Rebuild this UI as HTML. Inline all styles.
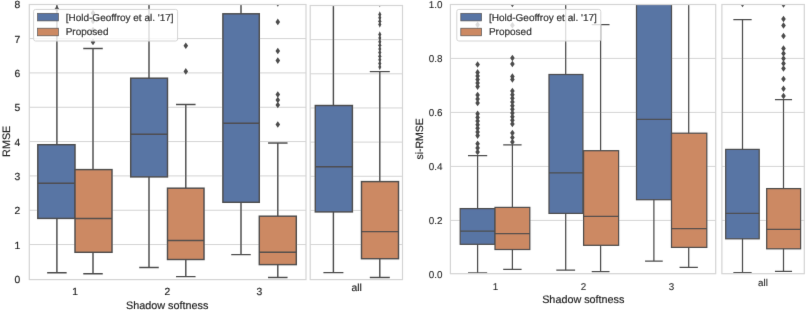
<!DOCTYPE html>
<html><head><meta charset="utf-8"><title>Boxplots</title>
<style>
html,body{margin:0;padding:0;background:#ffffff;width:808px;height:310px;overflow:hidden;}
svg text{font-family:"Liberation Sans", sans-serif;stroke:#262626;stroke-width:0.18px;text-rendering:geometricPrecision;}
svg{will-change:transform;}
</style></head>
<body>
<svg width="808" height="310" viewBox="0 0 808 310" style="display:block">
<defs><filter id="soft" x="0" y="0" width="808" height="310" filterUnits="userSpaceOnUse"><feConvolveMatrix order="3" kernelMatrix="0 1 0 1 12 1 0 1 0" divisor="16" edgeMode="duplicate"/></filter></defs>
<rect x="0" y="0" width="808" height="310" fill="#ffffff"/>
<g filter="url(#soft)">
<clipPath id="cL"><rect x="29.3" y="4.5" width="276.7" height="275.1"/></clipPath>
<g clip-path="url(#cL)">
<line x1="29.3" y1="244.57" x2="306.0" y2="244.57" stroke="#d4d4d4" stroke-width="1"/>
<line x1="29.3" y1="210.24" x2="306.0" y2="210.24" stroke="#d4d4d4" stroke-width="1"/>
<line x1="29.3" y1="175.91" x2="306.0" y2="175.91" stroke="#d4d4d4" stroke-width="1"/>
<line x1="29.3" y1="141.58" x2="306.0" y2="141.58" stroke="#d4d4d4" stroke-width="1"/>
<line x1="29.3" y1="107.25" x2="306.0" y2="107.25" stroke="#d4d4d4" stroke-width="1"/>
<line x1="29.3" y1="72.92" x2="306.0" y2="72.92" stroke="#d4d4d4" stroke-width="1"/>
<line x1="29.3" y1="38.59" x2="306.0" y2="38.59" stroke="#d4d4d4" stroke-width="1"/>
<g stroke="#4d4d4d" stroke-width="1.45" fill="none"><line x1="56.9" y1="218.4" x2="56.9" y2="272.7"/>
<line x1="47.15" y1="272.7" x2="66.65" y2="272.7"/>
<line x1="56.9" y1="144.7" x2="56.9" y2="-10"/>
<rect x="37.8" y="144.7" width="37.20" height="73.70" fill="#5975a4"/>
<line x1="37.8" y1="183.3" x2="75.0" y2="183.3"/>
<line x1="93.0" y1="252.3" x2="93.0" y2="273.7"/>
<line x1="83.25" y1="273.7" x2="102.75" y2="273.7"/>
<line x1="93.0" y1="169.6" x2="93.0" y2="48.5"/>
<line x1="83.25" y1="48.5" x2="102.75" y2="48.5"/>
<rect x="75.0" y="169.6" width="37.00" height="82.70" fill="#cc8963"/>
<line x1="75.0" y1="218.4" x2="112.0" y2="218.4"/>
<line x1="149.0" y1="176.9" x2="149.0" y2="267.5"/>
<line x1="139.25" y1="267.5" x2="158.75" y2="267.5"/>
<line x1="149.0" y1="78.2" x2="149.0" y2="-10"/>
<rect x="130.7" y="78.2" width="36.80" height="98.70" fill="#5975a4"/>
<line x1="130.7" y1="134.2" x2="167.5" y2="134.2"/>
<line x1="185.8" y1="259.5" x2="185.8" y2="276.6"/>
<line x1="176.05" y1="276.6" x2="195.55" y2="276.6"/>
<line x1="185.8" y1="188.2" x2="185.8" y2="104.5"/>
<line x1="176.05" y1="104.5" x2="195.55" y2="104.5"/>
<rect x="167.5" y="188.2" width="36.50" height="71.30" fill="#cc8963"/>
<line x1="167.5" y1="240.4" x2="204.0" y2="240.4"/>
<line x1="241.0" y1="202.3" x2="241.0" y2="254.6"/>
<line x1="231.25" y1="254.6" x2="250.75" y2="254.6"/>
<line x1="241.0" y1="13.8" x2="241.0" y2="-10"/>
<rect x="222.9" y="13.8" width="36.40" height="188.50" fill="#5975a4"/>
<line x1="222.9" y1="123.3" x2="259.3" y2="123.3"/>
<line x1="277.8" y1="264.6" x2="277.8" y2="277.5"/>
<line x1="268.05" y1="277.5" x2="287.55" y2="277.5"/>
<line x1="277.8" y1="216.2" x2="277.8" y2="143.0"/>
<line x1="268.05" y1="143.0" x2="287.55" y2="143.0"/>
<rect x="259.3" y="216.2" width="37.00" height="48.40" fill="#cc8963"/>
<line x1="259.3" y1="252.3" x2="296.3" y2="252.3"/></g><g fill="#4d4d4d" stroke="none"><polygon points="56.9,5.7 59.2,9.0 56.9,12.3 54.6,9.0"/>
<polygon points="93.0,9.7 95.3,13.0 93.0,16.3 90.7,13.0"/>
<polygon points="93.0,17.7 95.3,21.0 93.0,24.3 90.7,21.0"/>
<polygon points="93.0,26.7 95.3,30.0 93.0,33.3 90.7,30.0"/>
<polygon points="93.0,38.7 95.3,42.0 93.0,45.3 90.7,42.0"/>

<polygon points="185.8,42.5 188.1,45.8 185.8,49.1 183.5,45.8"/>
<polygon points="185.8,68.1 188.1,71.4 185.8,74.7 183.5,71.4"/>

<polygon points="277.8,0.2 280.1,3.5 277.8,6.8 275.5,3.5"/>
<polygon points="277.8,18.6 280.1,21.9 277.8,25.2 275.5,21.9"/>
<polygon points="277.8,47.7 280.1,51.0 277.8,54.3 275.5,51.0"/>
<polygon points="277.8,57.3 280.1,60.6 277.8,63.9 275.5,60.6"/>
<polygon points="277.8,91.2 280.1,94.5 277.8,97.8 275.5,94.5"/>
<polygon points="277.8,96.7 280.1,100.0 277.8,103.3 275.5,100.0"/>
<polygon points="277.8,101.7 280.1,105.0 277.8,108.3 275.5,105.0"/>
<polygon points="277.8,121.2 280.1,124.5 277.8,127.8 275.5,124.5"/></g>
</g>
<rect x="29.3" y="4.5" width="276.7" height="275.1" fill="none" stroke="#d4d4d4" stroke-width="1.2"/>
<clipPath id="cLA"><rect x="310.2" y="5.5" width="92.30000000000001" height="274.1"/></clipPath>
<g clip-path="url(#cLA)">
<line x1="310.2" y1="244.55" x2="402.5" y2="244.55" stroke="#d4d4d4" stroke-width="1"/>
<line x1="310.2" y1="210.40" x2="402.5" y2="210.40" stroke="#d4d4d4" stroke-width="1"/>
<line x1="310.2" y1="176.25" x2="402.5" y2="176.25" stroke="#d4d4d4" stroke-width="1"/>
<line x1="310.2" y1="142.10" x2="402.5" y2="142.10" stroke="#d4d4d4" stroke-width="1"/>
<line x1="310.2" y1="107.95" x2="402.5" y2="107.95" stroke="#d4d4d4" stroke-width="1"/>
<line x1="310.2" y1="73.80" x2="402.5" y2="73.80" stroke="#d4d4d4" stroke-width="1"/>
<line x1="310.2" y1="39.65" x2="402.5" y2="39.65" stroke="#d4d4d4" stroke-width="1"/>
<g stroke="#4d4d4d" stroke-width="1.45" fill="none"><line x1="333.4" y1="211.9" x2="333.4" y2="272.6"/>
<line x1="323.4" y1="272.6" x2="343.4" y2="272.6"/>
<line x1="333.4" y1="105.5" x2="333.4" y2="-10"/>
<rect x="315.3" y="105.5" width="37.10" height="106.40" fill="#5975a4"/>
<line x1="315.3" y1="166.8" x2="352.4" y2="166.8"/>
<line x1="379.8" y1="258.7" x2="379.8" y2="277.4"/>
<line x1="369.8" y1="277.4" x2="389.8" y2="277.4"/>
<line x1="379.8" y1="181.6" x2="379.8" y2="71.6"/>
<line x1="369.8" y1="71.6" x2="389.8" y2="71.6"/>
<rect x="361.5" y="181.6" width="37.00" height="77.10" fill="#cc8963"/>
<line x1="361.5" y1="231.6" x2="398.5" y2="231.6"/></g><g fill="#4d4d4d" stroke="none">
<polygon points="379.8,0.7 381.3,4.0 379.8,7.3 378.3,4.0"/>
<polygon points="379.8,11.2 381.3,14.5 379.8,17.8 378.3,14.5"/>
<polygon points="379.8,14.5 381.3,17.8 379.8,21.1 378.3,17.8"/>
<polygon points="379.8,17.9 381.3,21.2 379.8,24.5 378.3,21.2"/>
<polygon points="379.8,21.2 381.3,24.5 379.8,27.8 378.3,24.5"/>
<polygon points="379.8,31.2 381.3,34.5 379.8,37.8 378.3,34.5"/>
<polygon points="379.8,34.8 381.3,38.1 379.8,41.4 378.3,38.1"/>
<polygon points="379.8,38.4 381.3,41.7 379.8,45.0 378.3,41.7"/>
<polygon points="379.8,42.0 381.3,45.3 379.8,48.6 378.3,45.3"/>
<polygon points="379.8,45.6 381.3,48.9 379.8,52.2 378.3,48.9"/>
<polygon points="379.8,49.3 381.3,52.6 379.8,55.9 378.3,52.6"/>
<polygon points="379.8,52.9 381.3,56.2 379.8,59.5 378.3,56.2"/>
<polygon points="379.8,56.5 381.3,59.8 379.8,63.1 378.3,59.8"/>
<polygon points="379.8,60.1 381.3,63.4 379.8,66.7 378.3,63.4"/>
<polygon points="379.8,63.7 381.3,67.0 379.8,70.3 378.3,67.0"/></g>
</g>
<rect x="310.2" y="5.5" width="92.30000000000001" height="274.1" fill="none" stroke="#d4d4d4" stroke-width="1.2"/>
<clipPath id="cR"><rect x="450.4" y="4.5" width="265.30000000000007" height="269.2"/></clipPath>
<g clip-path="url(#cR)">
<line x1="450.4" y1="220.40" x2="715.7" y2="220.40" stroke="#d4d4d4" stroke-width="1"/>
<line x1="450.4" y1="166.40" x2="715.7" y2="166.40" stroke="#d4d4d4" stroke-width="1"/>
<line x1="450.4" y1="112.40" x2="715.7" y2="112.40" stroke="#d4d4d4" stroke-width="1"/>
<line x1="450.4" y1="58.40" x2="715.7" y2="58.40" stroke="#d4d4d4" stroke-width="1"/>
<g stroke="#4d4d4d" stroke-width="1.25" fill="none"><line x1="477.6" y1="244.3" x2="477.6" y2="272.8"/>
<line x1="468.0" y1="272.8" x2="487.20000000000005" y2="272.8"/>
<line x1="477.6" y1="208.6" x2="477.6" y2="155.6"/>
<line x1="468.0" y1="155.6" x2="487.20000000000005" y2="155.6"/>
<rect x="460.2" y="208.6" width="34.80" height="35.70" fill="#5975a4"/>
<line x1="460.2" y1="231.2" x2="495.0" y2="231.2"/>
<line x1="512.4" y1="249.5" x2="512.4" y2="269.3"/>
<line x1="503.2" y1="269.3" x2="521.6" y2="269.3"/>
<line x1="512.4" y1="207.4" x2="512.4" y2="144.9"/>
<line x1="503.2" y1="144.9" x2="521.6" y2="144.9"/>
<rect x="495.0" y="207.4" width="34.80" height="42.10" fill="#cc8963"/>
<line x1="495.0" y1="233.6" x2="529.8" y2="233.6"/>
<line x1="565.7" y1="213.4" x2="565.7" y2="270.0"/>
<line x1="556.3000000000001" y1="270.0" x2="575.1" y2="270.0"/>
<line x1="565.7" y1="74.5" x2="565.7" y2="-10"/>
<rect x="549.0" y="74.5" width="33.90" height="138.90" fill="#5975a4"/>
<line x1="549.0" y1="172.8" x2="582.9" y2="172.8"/>
<line x1="600.6" y1="245.3" x2="600.6" y2="271.6"/>
<line x1="591.7" y1="271.6" x2="609.5" y2="271.6"/>
<line x1="600.6" y1="150.7" x2="600.6" y2="24.7"/>
<line x1="591.7" y1="24.7" x2="609.5" y2="24.7"/>
<rect x="583.6" y="150.7" width="35.00" height="94.60" fill="#cc8963"/>
<line x1="583.6" y1="216.3" x2="618.6" y2="216.3"/>
<line x1="653.9" y1="199.7" x2="653.9" y2="261.0"/>
<line x1="645.05" y1="261.0" x2="662.75" y2="261.0"/>
<line x1="653.9" y1="-5.0" x2="653.9" y2="-10"/>
<rect x="636.5" y="-5.0" width="35.00" height="204.70" fill="#5975a4"/>
<line x1="636.5" y1="119.4" x2="671.5" y2="119.4"/>
<line x1="688.7" y1="247.4" x2="688.7" y2="267.4"/>
<line x1="679.5500000000001" y1="267.4" x2="697.85" y2="267.4"/>
<line x1="688.7" y1="133.2" x2="688.7" y2="-10"/>
<rect x="671.5" y="133.2" width="35.30" height="114.20" fill="#cc8963"/>
<line x1="671.5" y1="228.7" x2="706.8" y2="228.7"/></g><g fill="#4d4d4d" stroke="none"><polygon points="477.6,21.5 479.9,24.8 477.6,28.1 475.3,24.8"/>
<polygon points="477.6,61.2 479.9,64.5 477.6,67.8 475.3,64.5"/>
<polygon points="477.6,69.1 479.9,72.4 477.6,75.7 475.3,72.4"/>
<polygon points="477.6,72.7 479.9,76.0 477.6,79.2 475.3,76.0"/>
<polygon points="477.6,76.2 479.9,79.5 477.6,82.8 475.3,79.5"/>
<polygon points="477.6,79.8 479.9,83.0 477.6,86.3 475.3,83.0"/>
<polygon points="477.6,83.3 479.9,86.6 477.6,89.9 475.3,86.6"/>
<polygon points="477.6,91.7 479.9,95.0 477.6,98.3 475.3,95.0"/>
<polygon points="477.6,95.7 479.9,99.0 477.6,102.3 475.3,99.0"/>
<polygon points="477.6,99.7 479.9,103.0 477.6,106.3 475.3,103.0"/>
<polygon points="477.6,110.5 479.9,113.8 477.6,117.1 475.3,113.8"/>
<polygon points="477.6,114.1 479.9,117.4 477.6,120.7 475.3,117.4"/>
<polygon points="477.6,117.8 479.9,121.1 477.6,124.4 475.3,121.1"/>
<polygon points="477.6,121.4 479.9,124.7 477.6,128.0 475.3,124.7"/>
<polygon points="477.6,125.0 479.9,128.3 477.6,131.6 475.3,128.3"/>
<polygon points="477.6,128.7 479.9,132.0 477.6,135.3 475.3,132.0"/>
<polygon points="477.6,132.3 479.9,135.6 477.6,138.9 475.3,135.6"/>
<polygon points="477.6,140.5 479.9,143.8 477.6,147.1 475.3,143.8"/>
<polygon points="477.6,144.6 479.9,147.9 477.6,151.2 475.3,147.9"/>
<polygon points="477.6,148.7 479.9,152.0 477.6,155.3 475.3,152.0"/>
<polygon points="512.4,0.7 514.7,4.0 512.4,7.3 510.1,4.0"/>
<polygon points="512.4,21.9 514.7,25.2 512.4,28.5 510.1,25.2"/>
<polygon points="512.4,54.7 514.7,58.0 512.4,61.3 510.1,58.0"/>
<polygon points="512.4,60.7 514.7,64.0 512.4,67.3 510.1,64.0"/>
<polygon points="512.4,73.2 514.7,76.5 512.4,79.8 510.1,76.5"/>
<polygon points="512.4,76.2 514.7,79.5 512.4,82.8 510.1,79.5"/>
<polygon points="512.4,87.7 514.7,91.0 512.4,94.3 510.1,91.0"/>
<polygon points="512.4,91.4 514.7,94.7 512.4,98.0 510.1,94.7"/>
<polygon points="512.4,95.0 514.7,98.3 512.4,101.6 510.1,98.3"/>
<polygon points="512.4,98.7 514.7,102.0 512.4,105.3 510.1,102.0"/>
<polygon points="512.4,102.4 514.7,105.7 512.4,109.0 510.1,105.7"/>
<polygon points="512.4,106.0 514.7,109.3 512.4,112.6 510.1,109.3"/>
<polygon points="512.4,109.7 514.7,113.0 512.4,116.3 510.1,113.0"/>
<polygon points="512.4,113.4 514.7,116.7 512.4,120.0 510.1,116.7"/>
<polygon points="512.4,117.0 514.7,120.3 512.4,123.6 510.1,120.3"/>
<polygon points="512.4,120.7 514.7,124.0 512.4,127.3 510.1,124.0"/>
<polygon points="512.4,129.7 514.7,133.0 512.4,136.3 510.1,133.0"/>
<polygon points="512.4,134.2 514.7,137.5 512.4,140.8 510.1,137.5"/>
<polygon points="512.4,138.7 514.7,142.0 512.4,145.3 510.1,142.0"/>



</g>
</g>
<rect x="450.4" y="4.5" width="265.30000000000007" height="269.2" fill="none" stroke="#d4d4d4" stroke-width="1.2"/>
<clipPath id="cRA"><rect x="721.9" y="4.5" width="82.39999999999998" height="269.2"/></clipPath>
<g clip-path="url(#cRA)">
<line x1="721.9" y1="220.40" x2="804.3" y2="220.40" stroke="#d4d4d4" stroke-width="1"/>
<line x1="721.9" y1="166.40" x2="804.3" y2="166.40" stroke="#d4d4d4" stroke-width="1"/>
<line x1="721.9" y1="112.40" x2="804.3" y2="112.40" stroke="#d4d4d4" stroke-width="1"/>
<line x1="721.9" y1="58.40" x2="804.3" y2="58.40" stroke="#d4d4d4" stroke-width="1"/>
<g stroke="#4d4d4d" stroke-width="1.25" fill="none"><line x1="742.5" y1="238.8" x2="742.5" y2="272.6"/>
<line x1="733.35" y1="272.6" x2="751.65" y2="272.6"/>
<line x1="742.5" y1="149.4" x2="742.5" y2="19.7"/>
<line x1="733.35" y1="19.7" x2="751.65" y2="19.7"/>
<rect x="725.7" y="149.4" width="33.50" height="89.40" fill="#5975a4"/>
<line x1="725.7" y1="213.3" x2="759.2" y2="213.3"/>
<line x1="783.5" y1="248.8" x2="783.5" y2="271.4"/>
<line x1="774.95" y1="271.4" x2="792.05" y2="271.4"/>
<line x1="783.5" y1="188.6" x2="783.5" y2="99.7"/>
<line x1="774.95" y1="99.7" x2="792.05" y2="99.7"/>
<rect x="766.7" y="188.6" width="33.90" height="60.20" fill="#cc8963"/>
<line x1="766.7" y1="229.4" x2="800.6" y2="229.4"/></g><g fill="#4d4d4d" stroke="none"><polygon points="742.5,0.7 744.8,4.0 742.5,7.3 740.2,4.0"/>
<polygon points="783.5,1.2 785.8,4.5 783.5,7.8 781.2,4.5"/>
<polygon points="783.5,15.7 785.8,19.0 783.5,22.3 781.2,19.0"/>
<polygon points="783.5,22.2 785.8,25.5 783.5,28.8 781.2,25.5"/>
<polygon points="783.5,32.7 785.8,36.0 783.5,39.3 781.2,36.0"/>
<polygon points="783.5,75.7 785.8,79.0 783.5,82.3 781.2,79.0"/>
<polygon points="783.5,45.2 785.8,48.5 783.5,51.8 781.2,48.5"/>
<polygon points="783.5,50.2 785.8,53.5 783.5,56.8 781.2,53.5"/>
<polygon points="783.5,55.2 785.8,58.5 783.5,61.8 781.2,58.5"/>
<polygon points="783.5,60.2 785.8,63.5 783.5,66.8 781.2,63.5"/>
<polygon points="783.5,65.2 785.8,68.5 783.5,71.8 781.2,68.5"/>
<polygon points="783.5,85.5 785.8,88.8 783.5,92.1 781.2,88.8"/>
<polygon points="783.5,92.7 785.8,96.0 783.5,99.3 781.2,96.0"/></g>
</g>
<rect x="721.9" y="4.5" width="82.39999999999998" height="269.2" fill="none" stroke="#d4d4d4" stroke-width="1.2"/>
<rect x="33.6" y="9.4" width="144" height="31.6" rx="2" ry="2" fill="#ffffff" fill-opacity="0.8" stroke="#d4d4d4" stroke-width="1"/>
<rect x="37.6" y="13.3" width="20.8" height="7.6" fill="#5975a4" stroke="#4d4d4d" stroke-width="0.7"/>
<rect x="37.6" y="28.200000000000003" width="20.8" height="7.6" fill="#cc8963" stroke="#4d4d4d" stroke-width="0.7"/>
<text x="65.7" y="20.700000000000003" font-size="10" fill="#222" style="stroke:#222;stroke-width:0.2px">[Hold-Geoffroy et al. '17]</text>
<text x="65.7" y="35.3" font-size="10" fill="#222" style="stroke:#222;stroke-width:0.2px">Proposed</text>
<rect x="456.8" y="9.4" width="144" height="31.6" rx="2" ry="2" fill="#ffffff" fill-opacity="0.8" stroke="#d4d4d4" stroke-width="1"/>
<rect x="460.8" y="13.3" width="20.8" height="7.6" fill="#5975a4" stroke="#4d4d4d" stroke-width="0.7"/>
<rect x="460.8" y="28.200000000000003" width="20.8" height="7.6" fill="#cc8963" stroke="#4d4d4d" stroke-width="0.7"/>
<text x="488.90000000000003" y="20.700000000000003" font-size="10" fill="#222" style="stroke:#222;stroke-width:0.2px">[Hold-Geoffroy et al. '17]</text>
<text x="488.90000000000003" y="35.3" font-size="10" fill="#222" style="stroke:#222;stroke-width:0.2px">Proposed</text>
<g font-family="Liberation Sans, sans-serif">
<text x="20.2" y="282.90" font-size="10.3" text-anchor="end" fill="#262626">0</text>
<text x="20.2" y="248.57" font-size="10.3" text-anchor="end" fill="#262626">1</text>
<text x="20.2" y="214.24" font-size="10.3" text-anchor="end" fill="#262626">2</text>
<text x="20.2" y="179.91" font-size="10.3" text-anchor="end" fill="#262626">3</text>
<text x="20.2" y="145.58" font-size="10.3" text-anchor="end" fill="#262626">4</text>
<text x="20.2" y="111.25" font-size="10.3" text-anchor="end" fill="#262626">5</text>
<text x="20.2" y="76.92" font-size="10.3" text-anchor="end" fill="#262626">6</text>
<text x="20.2" y="42.59" font-size="10.3" text-anchor="end" fill="#262626">7</text>
<text x="20.2" y="8.26" font-size="10.3" text-anchor="end" fill="#262626">8</text>
<text x="442.4" y="278.20" font-size="9.9" text-anchor="end" fill="#262626" style="stroke-width:0.08px">0.0</text>
<text x="442.4" y="224.20" font-size="9.9" text-anchor="end" fill="#262626" style="stroke-width:0.08px">0.2</text>
<text x="442.4" y="170.20" font-size="9.9" text-anchor="end" fill="#262626" style="stroke-width:0.08px">0.4</text>
<text x="442.4" y="116.20" font-size="9.9" text-anchor="end" fill="#262626" style="stroke-width:0.08px">0.6</text>
<text x="442.4" y="62.20" font-size="9.9" text-anchor="end" fill="#262626" style="stroke-width:0.08px">0.8</text>
<text x="442.4" y="8.20" font-size="9.9" text-anchor="end" fill="#262626" style="stroke-width:0.08px">1.0</text>
<text x="75.2" y="295.2" font-size="10.3" text-anchor="middle" fill="#262626">1</text>
<text x="167.4" y="295.2" font-size="10.3" text-anchor="middle" fill="#262626">2</text>
<text x="259.3" y="295.2" font-size="10.3" text-anchor="middle" fill="#262626">3</text>
<text x="356.6" y="291.0" font-size="10.3" text-anchor="middle" fill="#262626">all</text>
<text x="495.5" y="290.0" font-size="9.8" text-anchor="middle" fill="#262626" style="stroke-width:0.08px">1</text>
<text x="583.4" y="290.0" font-size="9.8" text-anchor="middle" fill="#262626" style="stroke-width:0.08px">2</text>
<text x="671.4" y="290.0" font-size="9.8" text-anchor="middle" fill="#262626" style="stroke-width:0.08px">3</text>
<text x="763.0" y="286.0" font-size="9.8" text-anchor="middle" fill="#262626" style="stroke-width:0.08px">all</text>
<text x="167.2" y="308.8" font-size="10.8" text-anchor="middle" fill="#262626">Shadow softness</text>
<text x="583.3" y="303.0" font-size="10.8" text-anchor="middle" fill="#262626">Shadow softness</text>
<text transform="translate(9.6,141.3) rotate(-90)" font-size="10.8" text-anchor="middle" fill="#262626">RMSE</text>
<text transform="translate(422.8,138.9) rotate(-90)" font-size="10.5" text-anchor="middle" fill="#262626">si-RMSE</text>
</g>
</g>
</svg>
</body></html>
